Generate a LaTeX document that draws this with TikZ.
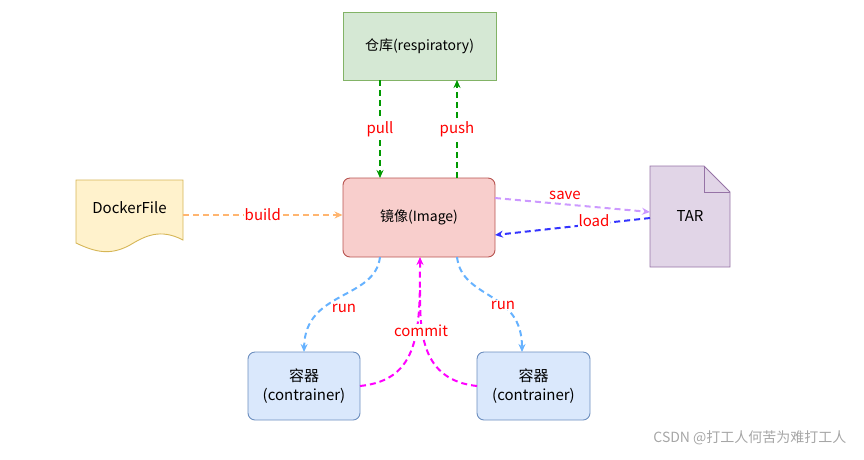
\documentclass[tikz,border=0pt]{standalone}
\usepackage{fontspec}
\setmainfont{Noto Sans CJK SC}
\usetikzlibrary{arrows.meta}
\definecolor{gf}{HTML}{D5E8D4}\definecolor{gs}{HTML}{82B366}
\definecolor{rf}{HTML}{F8CECC}\definecolor{rs}{HTML}{B85450}
\definecolor{yf}{HTML}{FFF2CC}\definecolor{ys}{HTML}{D6B656}
\definecolor{pf}{HTML}{E1D5E7}\definecolor{ps}{HTML}{9673A6}
\definecolor{bf}{HTML}{DAE8FC}\definecolor{bs}{HTML}{6C8EBF}
\definecolor{cpull}{HTML}{009900}\definecolor{cbuild}{HTML}{FFB570}
\definecolor{csave}{HTML}{CC99FF}\definecolor{cload}{HTML}{3333FF}
\definecolor{crun}{HTML}{66B2FF}\definecolor{ccom}{HTML}{FF00FF}
\begin{document}
\begin{tikzpicture}[x=1pt,y=-1pt,
 box/.style={draw=#1,line width=0.9pt,minimum height=68pt,align=center,font=\fontsize{14}{16}\selectfont},
 arr/.style={draw=#1,line width=2pt,dash pattern=on 6pt off 4pt,-{Stealth[length=8pt,width=7pt]}},
 lab/.style={text=red,fill=white,inner sep=1pt,font=\fontsize{15}{17}\selectfont}]
\useasboundingbox (0,0) rectangle (864,459);
\node[box=gs,fill=gf,minimum width=153pt] (repo) at (419.5,46) {仓库(respiratory)};
\node[box=rs,fill=rf,rounded corners=7pt,minimum width=152pt,minimum height=79pt] (img) at (419,217.5) {镜像(Image)};
\node[box=bs,fill=bf,rounded corners=7pt,minimum width=112pt,font=\fontsize{15}{19}\selectfont] (c1) at (304,386) {容器\\(contrainer)};
\node[box=bs,fill=bf,rounded corners=7pt,minimum width=113pt,font=\fontsize{15}{19}\selectfont] (c2) at (533.5,386) {容器\\(contrainer)};
% DockerFile
\draw[ys,fill=yf,line width=0.9pt] (76,180) -- (183,180) -- (183,240) .. controls (160,228) and (145,236) .. (130,245) .. controls (110,256) and (95,252) .. (76,243) -- cycle;
\node[font=\fontsize{15}{17}\selectfont] (df) at (129.5,208) {DockerFile};
\coordinate (dfr) at (183,215);
% TAR
\draw[ps,fill=pf,line width=0.9pt] (650,166) -- (704,166) -- (730,192) -- (730,267) -- (650,267) -- cycle;
\draw[ps,line width=0.9pt] (704,166) -- (704,192) -- (730,192);
\node[font=\fontsize{15}{17}\selectfont] (tar) at (690,216) {TAR};
% arrows
\draw[arr=cpull] (380,80) -- node[lab]{pull} (380,178);
\draw[arr=cpull] (457,178) -- node[lab]{push} (457,80);
\draw[arr=cbuild] (dfr) -- node[lab]{build} (img.west|-dfr);
\draw[arr=csave] (495,198) -- (650,212);
\node[lab] (sv) at (565,195) {save};
\draw[arr=cload] (650,218) -- (495,235);
\node[lab] (ld) at (594,221) {load};
\draw[arr=crun] (380,257) .. controls (375,300) and (305,290) .. (304,352);
\node[lab] (r1) at (344,308) {run};
\draw[arr=crun] (457,257) .. controls (462,300) and (522,290) .. (522,352);
\node[lab] (r2) at (503,305) {run};
\draw[arr=ccom] (360,386) .. controls (420,380) and (420,330) .. (420,257);
\draw[draw=ccom,line width=2pt,dash pattern=on 6pt off 4pt] (477,386) .. controls (420,380) and (420,330) .. (420,290);
\node[lab] (cm) at (421,331) {commit};
\node[text=gray!70,font=\fontsize{14}{16}\selectfont,anchor=east] (wm) at (850,438) {CSDN @打工人何苦为难打工人};
\end{tikzpicture}
\end{document}
